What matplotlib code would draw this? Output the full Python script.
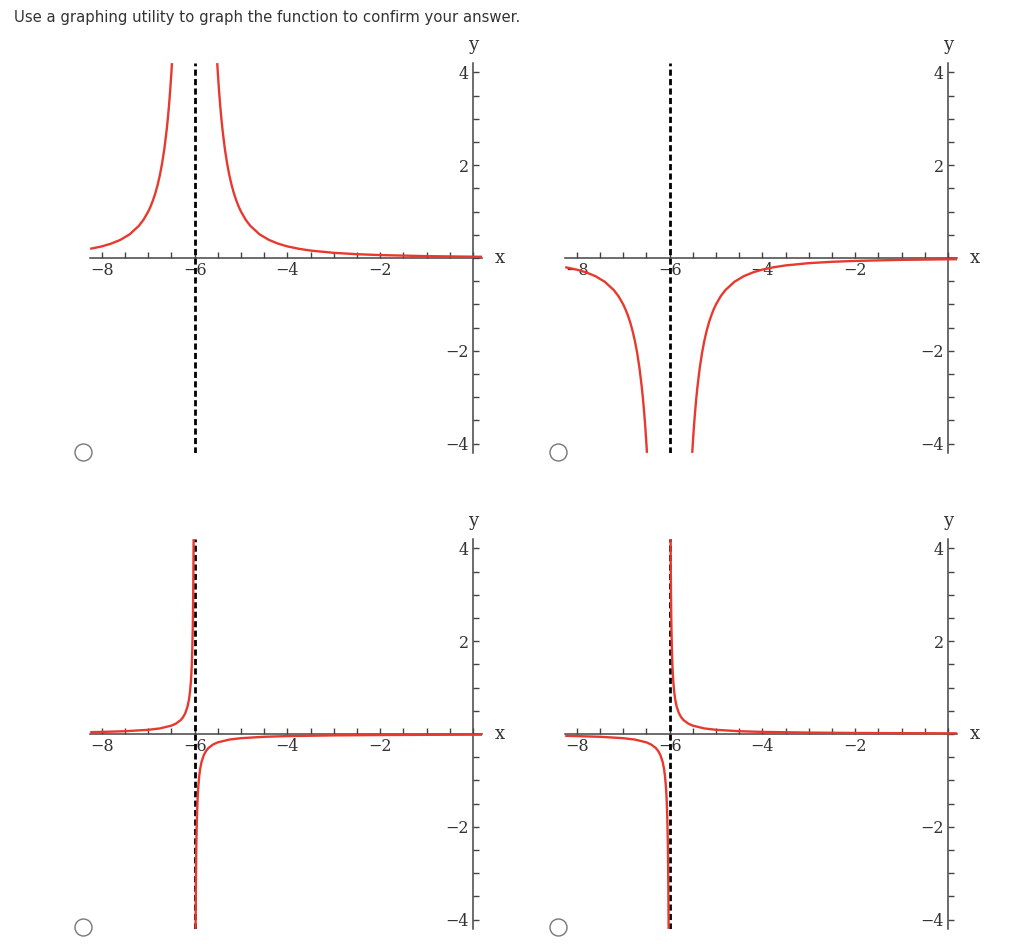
import matplotlib
matplotlib.use("Agg")
import matplotlib.pyplot as plt

# values, one pair of branches per panel (left / right of x = -6)
asymptote_x = -6

p1_left_x = [-8.25, -8.0, -7.8, -7.6, -7.4, -7.2, -7.1, -7.0, -6.95, -6.9, -6.85, -6.8, -6.75,
             -6.7, -6.65, -6.6, -6.575, -6.55, -6.525, -6.5, -6.488]
p1_left_y = [0.198, 0.25, 0.309, 0.391, 0.51, 0.694, 0.826, 1.0, 1.108, 1.235, 1.384, 1.563, 1.778,
             2.041, 2.367, 2.778, 3.025, 3.306, 3.628, 4.0, 4.2]
p1_right_x = [-5.512, -5.5, -5.475, -5.45, -5.425, -5.4, -5.35, -5.3, -5.25, -5.2, -5.15, -5.1,
              -5.05, -5.0, -4.9, -4.8, -4.6, -4.4, -4.2, -4.0, -3.75, -3.5, -3.0, -2.5, -2.0,
              -1.0, 0.0, 0.2]
p1_right_y = [4.2, 4.0, 3.628, 3.306, 3.025, 2.778, 2.367, 2.041, 1.778, 1.563, 1.384, 1.235,
              1.108, 1.0, 0.826, 0.694, 0.51, 0.391, 0.309, 0.25, 0.198, 0.16, 0.111, 0.082, 0.063,
              0.04, 0.028, 0.026]

p2_left_x = p1_left_x
p2_left_y = [-v for v in p1_left_y]
p2_right_x = p1_right_x
p2_right_y = [-v for v in p1_right_y]

p3_left_x = [-8.25, -8.0, -7.5, -7.0, -6.75, -6.5, -6.4, -6.3, -6.25, -6.2, -6.15, -6.12, -6.1,
             -6.08, -6.07, -6.06, -6.05, -6.04, -6.035, -6.03, -6.025, -6.0225, -6.0214]
p3_left_y = [0.04, 0.045, 0.06, 0.09, 0.12, 0.18, 0.225, 0.3, 0.36, 0.45, 0.6, 0.75, 0.9,
             1.125, 1.286, 1.5, 1.8, 2.25, 2.57, 3.0, 3.6, 4.0, 4.2]
p3_right_x = [-5.9786, -5.9775, -5.975, -5.97, -5.965, -5.96, -5.95, -5.94, -5.93, -5.92, -5.9,
              -5.88, -5.85, -5.8, -5.75, -5.7, -5.6, -5.5, -5.25, -5.0, -4.5, -4.0, -3.0, -2.0,
              -1.0, 0.0, 0.2]
p3_right_y = [-4.2, -4.0, -3.6, -3.0, -2.57, -2.25, -1.8, -1.5, -1.286, -1.125, -0.9,
              -0.75, -0.6, -0.45, -0.36, -0.3, -0.225, -0.18, -0.12, -0.09, -0.06, -0.045, -0.03,
              -0.0225, -0.018, -0.015, -0.0145]

p4_left_x = p3_left_x
p4_left_y = [-v for v in p3_left_y]
p4_right_x = p3_right_x
p4_right_y = [-v for v in p3_right_y]

panels = [
    (p1_left_x, p1_left_y, p1_right_x, p1_right_y),
    (p2_left_x, p2_left_y, p2_right_x, p2_right_y),
    (p3_left_x, p3_left_y, p3_right_x, p3_right_y),
    (p4_left_x, p4_left_y, p4_right_x, p4_right_y),
]
# pixel position of the origin of each panel
origins = [(473, 258), (948, 258), (473, 734), (948, 734)]
radio_pos = [(83, 452), (558, 452), (83, 927), (558, 927)]

x_ticks = [-8 + 0.5 * i for i in range(17)]
y_ticks = [-4 + 0.5 * i for i in range(17)]
x_labels = {-8: '\u22128', -6: '\u22126', -4: '\u22124', -2: '\u22122'}
y_labels = {-4: '\u22124', -2: '\u22122', 2: '2', 4: '4'}

W, H = 1024, 948
scale = 46.4
xlim = (-8.25, 0.2)
ylim = (-4.2, 4.2)
red = '#e8392f'
axis_col = '#444444'
serif = ['DejaVu Serif']

fig = plt.figure(figsize=(W / 100, H / 100), dpi=100)

over = fig.add_axes([0, 0, 1, 1])
over.set_xlim(0, W)
over.set_ylim(H, 0)
over.axis('off')
over.text(14, 17, 'Use a graphing utility to graph the function to confirm your answer.',
          fontsize=10.7, color='#333333', va='center', ha='left', family='DejaVu Sans')
over.scatter([p[0] for p in radio_pos], [p[1] for p in radio_pos], s=150,
             facecolors='white', edgecolors='#777777', linewidths=1.0)

for (lx, ly, rx, ry), (ox, oy) in zip(panels, origins):
    left = ox + xlim[0] * scale
    right = ox + xlim[1] * scale
    top = oy - ylim[1] * scale
    bottom = oy - ylim[0] * scale
    ax = fig.add_axes([left / W, 1 - bottom / H, (right - left) / W, (bottom - top) / H])
    ax.patch.set_alpha(0)
    ax.set_xlim(*xlim)
    ax.set_ylim(*ylim)
    for s in ['top', 'right']:
        ax.spines[s].set_visible(False)
    ax.spines['left'].set_position(('data', 0))
    ax.spines['bottom'].set_position(('data', 0))
    for s in ['left', 'bottom']:
        ax.spines[s].set_color(axis_col)
        ax.spines[s].set_linewidth(1.1)

    ax.set_xticks(x_ticks)
    ax.set_xticklabels([x_labels.get(t, '') for t in x_ticks])
    ax.set_yticks(y_ticks)
    ax.set_yticklabels([y_labels.get(t, '') for t in y_ticks])
    ax.tick_params(direction='in', length=4, width=1, color=axis_col, labelsize=11.5,
                   labelcolor='#333333', pad=3)
    for lab in ax.get_xticklabels() + ax.get_yticklabels():
        lab.set_family(serif)

    ax.plot([asymptote_x, asymptote_x], [ylim[0], ylim[1]], color='black', lw=2.0,
            linestyle=(0, (2.2, 1.2)), zorder=2)
    ax.plot(lx, ly, color=red, lw=1.7, zorder=3, solid_capstyle='butt')
    ax.plot(rx, ry, color=red, lw=1.7, zorder=3, solid_capstyle='butt')

    ax.text(0.47, 0, 'x', fontsize=13, family=serif, color='#333333', va='center', ha='left')
    ax.text(0, 4.6, 'y', fontsize=13, family=serif, color='#333333', va='center', ha='center',
            clip_on=False)

fig.savefig('out.png', dpi=100)
